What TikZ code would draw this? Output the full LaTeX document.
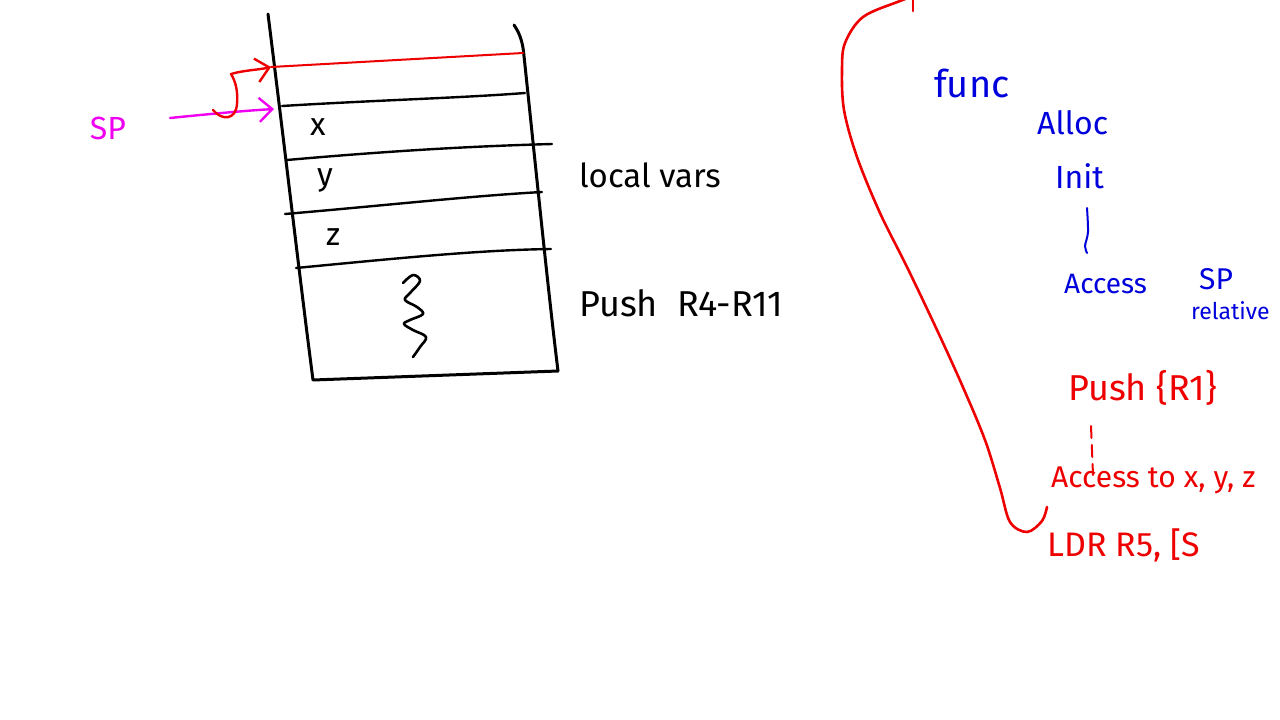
\documentclass[tikz,border=0pt]{standalone}
\usepackage{fontspec}
\setmainfont{Fira Sans}
\usetikzlibrary{arrows.meta}
\definecolor{pen}{RGB}{0,0,0}
\definecolor{penred}{RGB}{238,0,0}
\definecolor{penblue}{RGB}{0,0,220}
\definecolor{penpink}{RGB}{240,0,240}
\tikzset{
  ink/.style={line width=3pt, line cap=round, line join=round},
  thin ink/.style={line width=2pt, line cap=round, line join=round},
  hand/.style={inner sep=0pt, anchor=center},
  fs/.style={font=\fontsize{#1}{#1}\selectfont},
  tip/.style={-{Straight Barb[length=13pt,width=24pt,line width=2.4pt]}}
}
\begin{document}
\begin{tikzpicture}[x=1pt,y=-1pt]
\useasboundingbox (0,0) rectangle (1280,720);
\clip (0,0) rectangle (1280,720);
\fill[white] (0,0) rectangle (1280,720);

% ---- stack frame ----
\draw[ink] (268,14) .. controls (285,150) and (300,280) .. (313,380)
  -- (558,371) coordinate (br);
\draw[ink] (514,25) .. controls (521,35) and (523,45) .. (524,56)
  .. controls (535,160) and (548,290) .. (558,371);
\coordinate (wallTop) at (271,67);
\coordinate (wallSP) at (274,109);
\draw[thin ink, penred] (wallTop) -- (523,53);
\draw[ink, line width=2.4pt] (282,106) .. controls (380,100) and (460,98) .. (525,93);
\draw[ink, line width=2.4pt] (287,160) .. controls (400,150) and (480,146) .. (552,144);
\draw[ink, line width=2.4pt] (285,214) .. controls (390,205) and (470,196) .. (542,192);
\draw[ink, line width=2.4pt] (296,268) .. controls (400,258) and (480,250) .. (551,249);

\node[hand, fs=32] (vx) at (318,127) {x};
\node[hand, fs=32] (vy) at (325,180) {y};
\node[hand, fs=32] (vz) at (333,237) {z};
\draw[ink, line width=2.6pt] plot[smooth, tension=0.6] coordinates {
  (403,283) (413,275) (420,281) (410,293) (405,300) (417,307) (423,314)
  (410,320) (404,324) (413,330) (426,337) (420,347) (413,357)};

% ---- SP pointer ----
\node[hand, fs=32, text=penpink] (sp) at (108,128) {SP};
\coordinate (spstart) at (170,118);
\draw[thin ink, penpink, line width=2.4pt, tip] (spstart) .. controls (200,115) and (240,111) .. (wallSP);
\coordinate (rstart) at (213,110);
\draw[thin ink, penred, line width=2.4pt, tip] (rstart) .. controls (222,121) and (236,120) .. (237,104)
  .. controls (238,92) and (236,82) .. (231,74)
  .. controls (245,70) and (258,70) .. (wallTop);

% ---- stack notes ----
\node[hand, fs=33, anchor=west] (lv) at (579,175) {local vars};
\node[hand, fs=36, anchor=west] (pr) at (579,303) {Push\ \ R4-R11};

% ---- right-side notes ----
\draw[thin ink, penred, line width=2.6pt] plot[smooth, tension=0.55] coordinates {
  (930,-10) (900,1) (863,17) (845,43) (842,70) (844,110) (857,157) (880,213)
  (907,267) (937,330) (962,385) (985,440) (1000,488) (1010,522) (1027,532)
  (1042,521) (1047,507)};
\draw[thin ink, penred, line width=2.6pt] (913,0) -- (913,11);

\node[hand, fs=38, text=penblue, anchor=west] (func) at (934,83) {func};
\node[hand, fs=32, text=penblue, anchor=west] (alloc) at (1037,123) {Alloc};
\node[hand, fs=32, text=penblue, anchor=west] (init) at (1055,176) {Init};
\node[hand, fs=28, text=penblue, anchor=west] (access) at (1064,284) {Access};
\draw[thin ink, penblue] plot[smooth] coordinates {(1087,208) (1088,232) (1085,246) (1087,253)};
\node[hand, fs=30, text=penblue, anchor=west] (spr) at (1199,279) {SP};
\node[hand, fs=23, text=penblue, anchor=west] (rel) at (1191,311) {relative};

\node[hand, fs=36, text=penred, anchor=west] (push) at (1068,388) {Push \{R1\}};
\draw[thin ink, penred, dash pattern=on 12pt off 7pt] (1091,426) -- (1093,475);
\node[hand, fs=30, text=penred, anchor=west] (acc2) at (1051,480) {Access to x, y, z};
\node[hand, fs=34, text=penred, anchor=west] (ldr) at (1047,545) {LDR R5, [S};
\end{tikzpicture}
\end{document}
